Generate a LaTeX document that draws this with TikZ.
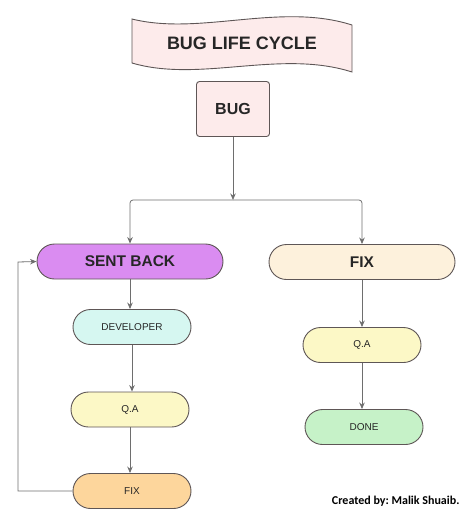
\documentclass[tikz,border=0pt]{standalone}
\usepackage{fontspec}
\setmainfont{Liberation Sans}
\newfontfamily\credfont{Carlito}
\usetikzlibrary{shapes.misc,arrows.meta}
\definecolor{bordc}{HTML}{5E5656}
\definecolor{linec}{HTML}{6E6E6E}
\definecolor{pinkc}{HTML}{FDEBEB}
\definecolor{violc}{HTML}{DA8CF1}
\definecolor{creamc}{HTML}{FDF1DC}
\definecolor{cyanc}{HTML}{D6F7F1}
\definecolor{yellc}{HTML}{FCF8C6}
\definecolor{orangc}{HTML}{FDD69C}
\definecolor{greenc}{HTML}{C6F2C8}
\tikzset{
  pill/.style={rounded rectangle, draw=bordc, line width=0.9pt, inner sep=0pt, minimum height=35pt, text=black!85},
  bigpill/.style={pill, minimum width=186pt, font=\bfseries\fontsize{15.5}{17}\selectfont},
  smallpill/.style={pill, minimum width=118pt, font=\fontsize{10}{12}\selectfont},
  arr/.style={draw=linec, line width=0.8pt, -{Stealth[length=6.5pt,width=5.5pt]}},
  conn/.style={draw=linec, line width=0.8pt}
}
\begin{document}
\begin{tikzpicture}[x=1pt,y=-1pt]
\useasboundingbox (0,0) rectangle (474,528);
% banner
\draw[draw=bordc, fill=pinkc, line width=0.9pt]
  (132,19) .. controls (200,36) and (280,2) .. (352,25)
  -- (352,72) .. controls (280,49) and (200,83) .. (132,63) -- cycle;
\node[font=\bfseries\fontsize{18}{20}\selectfont, text=black!85] (title) at (242,43) {BUG LIFE CYCLE};
% bug
\node[draw=bordc, fill=pinkc, line width=0.9pt, rounded corners=3pt, minimum width=73pt, minimum height=55pt, inner sep=0pt,
  font=\bfseries\fontsize{16}{18}\selectfont, text=black!85] (bug) at (233,109) {BUG};
\coordinate (j) at (233,200);
% level nodes
\node[bigpill, fill=violc] (sent) at (130,261.5) {SENT BACK};
\node[bigpill, fill=creamc] (fixr) at (362,262) {FIX};
\node[smallpill, fill=cyanc] (dev) at (132,327) {DEVELOPER};
\node[smallpill, fill=yellc] (qal) at (130,409.5) {Q.A};
\node[smallpill, fill=orangc] (fixl) at (132,491) {FIX};
\node[smallpill, fill=yellc] (qar) at (362,345) {Q.A};
\node[smallpill, fill=greenc] (done) at (364,427) {DONE};
\coordinate (back) at (18,262);
% connectors
\draw[arr] (bug.south) -- (j);
\draw[arr, rounded corners=3pt] (j) -| (sent.north);
\draw[arr, rounded corners=3pt] (j) -| (fixr.north);
\draw[arr] (sent.south) -- (sent.south |- dev.north);
\draw[arr] (dev.south) -- (dev.south |- qal.north);
\draw[arr] (qal.south) -- (qal.south |- fixl.north);
\draw[arr] (fixr.south) -- (fixr.south |- qar.north);
\draw[arr] (qar.south) -- (qar.south |- done.north);
\draw[arr] (fixl.west) -| (back) -- (sent.west);
% credit
\node[anchor=east, font=\credfont\bfseries\fontsize{12}{14}\selectfont] (credit) at (463,501) {\frenchspacing Created by: Malik Shuaib.};
\end{tikzpicture}
\end{document}
